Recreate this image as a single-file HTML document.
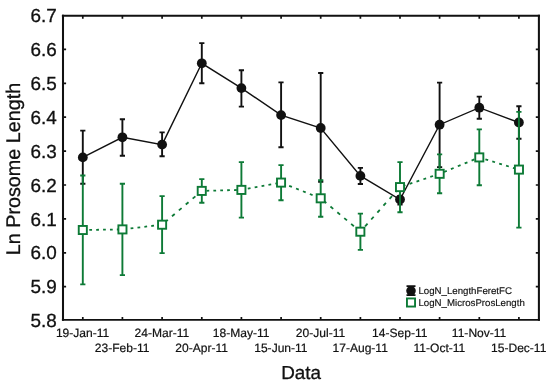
<!DOCTYPE html><html><head><meta charset="utf-8"><title>Chart</title><style>html,body{margin:0;padding:0;background:#fff}svg{display:block}text{text-rendering:geometricPrecision;font-family:"Liberation Sans",Arial,sans-serif;fill:#111}</style></head><body>
<svg width="550" height="384" viewBox="0 0 550 384">
<rect width="550" height="384" fill="#fff"/>
<path d="M63.0 14.75V320.85 M538.9 14.75V320.85" stroke="#111" stroke-width="2.05" fill="none"/>
<path d="M61.9 15.75H540.0 M61.9 319.8H540.0" stroke="#111" stroke-width="1.8" fill="none"/>
<path d="M63.0 49.4h3.1 M538.9 49.4h-3.1 M63.0 83.3h3.1 M538.9 83.3h-3.1 M63.0 117.2h3.1 M538.9 117.2h-3.1 M63.0 151.1h3.1 M538.9 151.1h-3.1 M63.0 185.0h3.1 M538.9 185.0h-3.1 M63.0 218.9h3.1 M538.9 218.9h-3.1 M63.0 252.8h3.1 M538.9 252.8h-3.1 M63.0 286.7h3.1 M538.9 286.7h-3.1 M82.8 15.75v3 M82.8 319.8v-2.8 M122.4 15.75v3 M122.4 319.8v-2.8 M162.1 15.75v3 M162.1 319.8v-2.8 M201.8 15.75v3 M201.8 319.8v-2.8 M241.4 15.75v3 M241.4 319.8v-2.8 M281.1 15.75v3 M281.1 319.8v-2.8 M320.7 15.75v3 M320.7 319.8v-2.8 M360.4 15.75v3 M360.4 319.8v-2.8 M400.0 15.75v3 M400.0 319.8v-2.8 M439.6 15.75v3 M439.6 319.8v-2.8 M479.3 15.75v3 M479.3 319.8v-2.8 M518.9 15.75v3 M518.9 319.8v-2.8" stroke="#111" stroke-width="1.7" fill="none"/>
<text x="56.7" y="22.2" font-size="18.9" text-anchor="end" stroke="#111" stroke-width="0.3">6.7</text>
<text x="56.7" y="56.1" font-size="18.9" text-anchor="end" stroke="#111" stroke-width="0.3">6.6</text>
<text x="56.7" y="90.0" font-size="18.9" text-anchor="end" stroke="#111" stroke-width="0.3">6.5</text>
<text x="56.7" y="123.9" font-size="18.9" text-anchor="end" stroke="#111" stroke-width="0.3">6.4</text>
<text x="56.7" y="157.8" font-size="18.9" text-anchor="end" stroke="#111" stroke-width="0.3">6.3</text>
<text x="56.7" y="191.7" font-size="18.9" text-anchor="end" stroke="#111" stroke-width="0.3">6.2</text>
<text x="56.7" y="225.5" font-size="18.9" text-anchor="end" stroke="#111" stroke-width="0.3">6.1</text>
<text x="56.7" y="259.4" font-size="18.9" text-anchor="end" stroke="#111" stroke-width="0.3">6.0</text>
<text x="56.7" y="293.3" font-size="18.9" text-anchor="end" stroke="#111" stroke-width="0.3">5.9</text>
<text x="56.7" y="327.2" font-size="18.9" text-anchor="end" stroke="#111" stroke-width="0.3">5.8</text>
<text x="82.6" y="337.3" font-size="12.05" text-anchor="middle" stroke="#111" stroke-width="0.2">19-Jan-11</text>
<text x="122.2" y="351.8" font-size="12.05" text-anchor="middle" stroke="#111" stroke-width="0.2">23-Feb-11</text>
<text x="161.9" y="337.3" font-size="12.05" text-anchor="middle" stroke="#111" stroke-width="0.2">24-Mar-11</text>
<text x="201.6" y="351.8" font-size="12.05" text-anchor="middle" stroke="#111" stroke-width="0.2">20-Apr-11</text>
<text x="241.2" y="337.3" font-size="12.05" text-anchor="middle" stroke="#111" stroke-width="0.2">18-May-11</text>
<text x="280.9" y="351.8" font-size="12.05" text-anchor="middle" stroke="#111" stroke-width="0.2">15-Jun-11</text>
<text x="320.5" y="337.3" font-size="12.05" text-anchor="middle" stroke="#111" stroke-width="0.2">20-Jul-11</text>
<text x="360.2" y="351.8" font-size="12.05" text-anchor="middle" stroke="#111" stroke-width="0.2">17-Aug-11</text>
<text x="399.8" y="337.3" font-size="12.05" text-anchor="middle" stroke="#111" stroke-width="0.2">14-Sep-11</text>
<text x="439.4" y="351.8" font-size="12.05" text-anchor="middle" stroke="#111" stroke-width="0.2">11-Oct-11</text>
<text x="479.1" y="337.3" font-size="12.05" text-anchor="middle" stroke="#111" stroke-width="0.2">11-Nov-11</text>
<text x="518.7" y="351.8" font-size="12.05" text-anchor="middle" stroke="#111" stroke-width="0.2">15-Dec-11</text>
<text x="301.1" y="378.6" font-size="18.85" text-anchor="middle" stroke="#111" stroke-width="0.3">Data</text>
<text transform="translate(19.5 169.0) rotate(-90)" font-size="19.78" text-anchor="middle" stroke="#111" stroke-width="0.3">Ln Prosome Length</text>
<path d="M82.8 130.6V183.8 M80.2 130.6h5.2 M80.2 183.8h5.2 M122.4 119.2V155.7 M119.8 119.2h5.2 M119.8 155.7h5.2 M162.1 132.4V156.2 M159.5 132.4h5.2 M159.5 156.2h5.2 M201.8 43.1V83.2 M199.2 43.1h5.2 M199.2 83.2h5.2 M241.4 70.2V106.6 M238.8 70.2h5.2 M238.8 106.6h5.2 M281.1 82.4V147.2 M278.4 82.4h5.2 M278.4 147.2h5.2 M320.7 73.0V181.8 M318.1 73.0h5.2 M318.1 181.8h5.2 M360.4 167.9V184.0 M357.8 167.9h5.2 M357.8 184.0h5.2 M400.0 196.0V204.5 M397.4 196.0h5.2 M397.4 204.5h5.2 M439.6 82.6V167.1 M437.0 82.6h5.2 M437.0 167.1h5.2 M479.3 96.6V118.7 M476.7 96.6h5.2 M476.7 118.7h5.2 M518.9 106.2V138.8 M516.3 106.2h5.2 M516.3 138.8h5.2" stroke="#111" stroke-width="1.9" fill="none"/>
<polyline points="82.8,157.4 122.4,137.3 162.1,144.6 201.8,63.3 241.4,88.1 281.1,115.1 320.7,128.0 360.4,175.9 400.0,199.5 439.6,124.7 479.3,107.7 518.9,122.5" fill="none" stroke="#111" stroke-width="1.4"/>
<circle cx="82.8" cy="157.4" r="4.9" fill="#111"/>
<circle cx="122.4" cy="137.3" r="4.9" fill="#111"/>
<circle cx="162.1" cy="144.6" r="4.9" fill="#111"/>
<circle cx="201.8" cy="63.3" r="4.9" fill="#111"/>
<circle cx="241.4" cy="88.1" r="4.9" fill="#111"/>
<circle cx="281.1" cy="115.1" r="4.9" fill="#111"/>
<circle cx="320.7" cy="128.0" r="4.9" fill="#111"/>
<circle cx="360.4" cy="175.9" r="4.9" fill="#111"/>
<circle cx="400.0" cy="199.5" r="4.9" fill="#111"/>
<circle cx="439.6" cy="124.7" r="4.9" fill="#111"/>
<circle cx="479.3" cy="107.7" r="4.9" fill="#111"/>
<circle cx="518.9" cy="122.5" r="4.9" fill="#111"/>
<path d="M82.8 175.5V284.4 M80.2 175.5h5.2 M80.2 284.4h5.2 M122.4 183.8V275.1 M119.8 183.8h5.2 M119.8 275.1h5.2 M162.1 196.1V253.1 M159.5 196.1h5.2 M159.5 253.1h5.2 M201.8 179.1V202.7 M199.2 179.1h5.2 M199.2 202.7h5.2 M241.4 162.1V217.6 M238.8 162.1h5.2 M238.8 217.6h5.2 M281.1 165.1V200.2 M278.4 165.1h5.2 M278.4 200.2h5.2 M320.7 180.3V216.7 M318.1 180.3h5.2 M318.1 216.7h5.2 M360.4 213.6V249.9 M357.8 213.6h5.2 M357.8 249.9h5.2 M400.0 162.1V212.2 M397.4 162.1h5.2 M397.4 212.2h5.2 M439.6 154.4V193.2 M437.0 154.4h5.2 M437.0 193.2h5.2 M479.3 129.4V185.2 M476.7 129.4h5.2 M476.7 185.2h5.2 M518.9 111.9V227.6 M516.3 111.9h5.2 M516.3 227.6h5.2" stroke="#0d7a36" stroke-width="1.9" fill="none"/>
<path d="M82.8 230.0L122.4 229.4" fill="none" stroke="#0d7a36" stroke-width="1.8" stroke-dasharray="2.75 4.14" stroke-dashoffset="0.39"/>
<path d="M122.4 229.4L162.1 224.7" fill="none" stroke="#0d7a36" stroke-width="1.8" stroke-dasharray="2.77 4.17" stroke-dashoffset="5.63"/>
<path d="M162.1 224.7L201.8 190.9" fill="none" stroke="#0d7a36" stroke-width="1.8" stroke-dasharray="3.61 5.44" stroke-dashoffset="5.12"/>
<path d="M201.8 190.9L241.4 189.9" fill="none" stroke="#0d7a36" stroke-width="1.8" stroke-dasharray="2.75 4.14" stroke-dashoffset="2.21"/>
<path d="M241.4 189.9L281.1 182.6" fill="none" stroke="#0d7a36" stroke-width="1.8" stroke-dasharray="2.80 4.21" stroke-dashoffset="0.53"/>
<path d="M281.1 182.6L320.7 198.3" fill="none" stroke="#0d7a36" stroke-width="1.8" stroke-dasharray="2.96 4.45" stroke-dashoffset="6.15"/>
<path d="M320.7 198.3L360.4 231.7" fill="none" stroke="#0d7a36" stroke-width="1.8" stroke-dasharray="3.60 5.41" stroke-dashoffset="5.27"/>
<path d="M360.4 231.7L400.0 187.1" fill="none" stroke="#0d7a36" stroke-width="1.8" stroke-dasharray="3.68 5.54" stroke-dashoffset="2.13"/>
<path d="M400.0 187.1L439.6 173.8" fill="none" stroke="#0d7a36" stroke-width="1.8" stroke-dasharray="2.90 4.37" stroke-dashoffset="4.41"/>
<path d="M439.6 173.8L479.3 157.4" fill="none" stroke="#0d7a36" stroke-width="1.8" stroke-dasharray="2.98 4.48" stroke-dashoffset="2.69"/>
<path d="M479.3 157.4L518.9 169.6" fill="none" stroke="#0d7a36" stroke-width="1.8" stroke-dasharray="2.88 4.33" stroke-dashoffset="0.84"/>
<rect x="78.75" y="225.95" width="8.1" height="8.1" fill="#fff" stroke="#0d7a36" stroke-width="1.9"/>
<rect x="118.40" y="225.35" width="8.1" height="8.1" fill="#fff" stroke="#0d7a36" stroke-width="1.9"/>
<rect x="158.05" y="220.65" width="8.1" height="8.1" fill="#fff" stroke="#0d7a36" stroke-width="1.9"/>
<rect x="197.70" y="186.85" width="8.1" height="8.1" fill="#fff" stroke="#0d7a36" stroke-width="1.9"/>
<rect x="237.35" y="185.85" width="8.1" height="8.1" fill="#fff" stroke="#0d7a36" stroke-width="1.9"/>
<rect x="277.00" y="178.55" width="8.1" height="8.1" fill="#fff" stroke="#0d7a36" stroke-width="1.9"/>
<rect x="316.65" y="194.25" width="8.1" height="8.1" fill="#fff" stroke="#0d7a36" stroke-width="1.9"/>
<rect x="356.30" y="227.65" width="8.1" height="8.1" fill="#fff" stroke="#0d7a36" stroke-width="1.9"/>
<rect x="395.95" y="183.05" width="8.1" height="8.1" fill="#fff" stroke="#0d7a36" stroke-width="1.9"/>
<rect x="435.60" y="169.75" width="8.1" height="8.1" fill="#fff" stroke="#0d7a36" stroke-width="1.9"/>
<rect x="475.25" y="153.35" width="8.1" height="8.1" fill="#fff" stroke="#0d7a36" stroke-width="1.9"/>
<rect x="514.90" y="165.55" width="8.1" height="8.1" fill="#fff" stroke="#0d7a36" stroke-width="1.9"/>
<path d="M411 286.2v9 M406.5 286.2h9 M406.5 295.2h9" stroke="#111" stroke-width="1.7"/>
<circle cx="411" cy="290.8" r="4.8" fill="#111"/>
<rect x="406.95" y="298.45" width="8.1" height="8.1" fill="#fff" stroke="#0d7a36" stroke-width="1.9"/>
<text x="418.5" y="294.3" font-size="9.66" stroke="#111" stroke-width="0.15">LogN_LengthFeretFC</text>
<text x="418.5" y="306" font-size="9.66" stroke="#111" stroke-width="0.15">LogN_MicrosProsLength</text>
</svg></body></html>
